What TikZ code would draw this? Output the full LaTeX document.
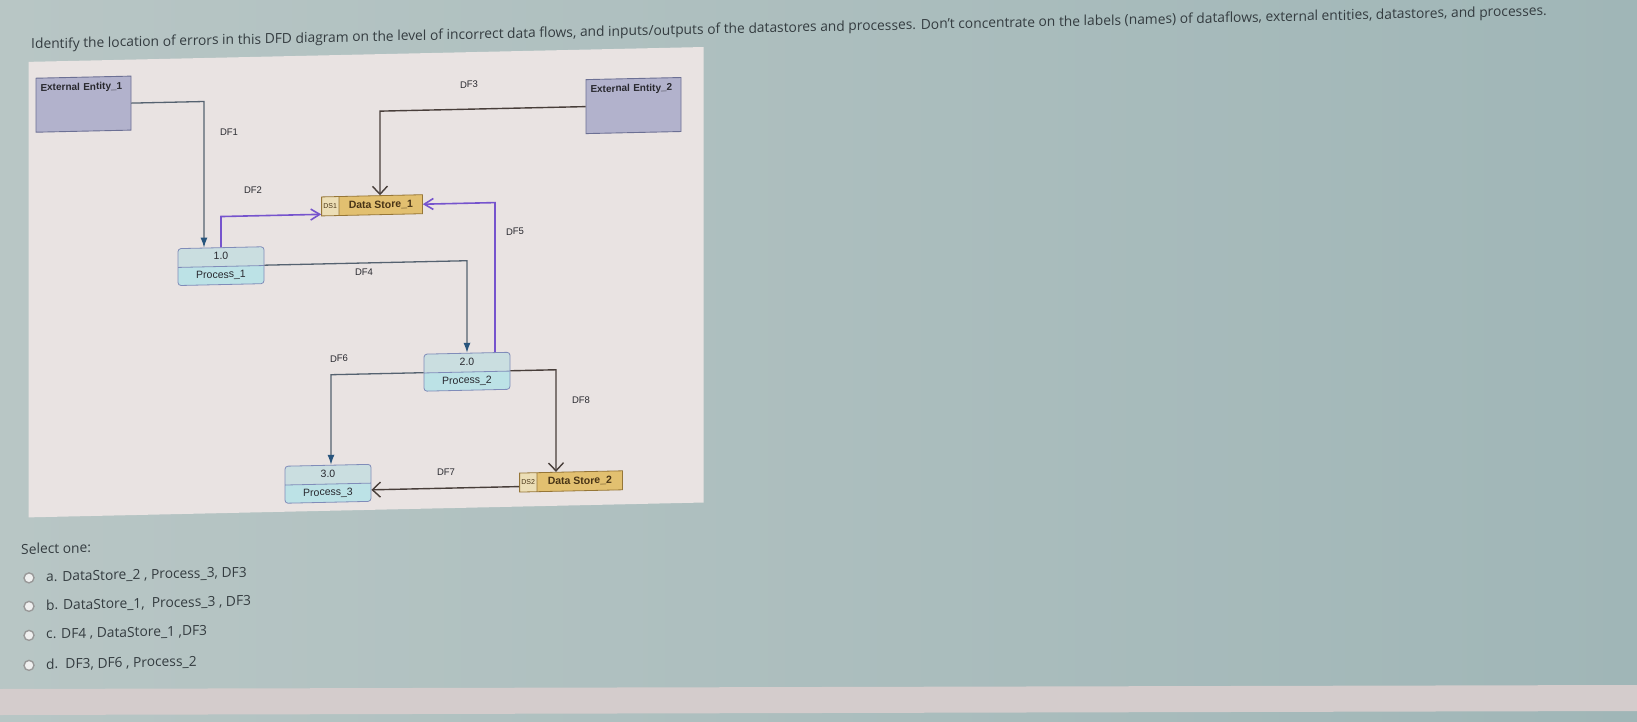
\documentclass[tikz,border=0pt]{standalone}
\usepackage{fontspec}
\setmainfont{Open Sans}
\newfontfamily\dfdfont{Liberation Sans}
\usepackage{tikz}
\usetikzlibrary{arrows.meta,shapes.multipart}

\definecolor{screenleft}{RGB}{184,198,197}
\definecolor{screenright}{RGB}{160,182,183}
\definecolor{bandcol}{RGB}{212,204,204}
\definecolor{panelcol}{RGB}{233,227,226}
\definecolor{titletext}{RGB}{52,60,64}
\definecolor{eefill}{RGB}{178,178,204}
\definecolor{eeline}{RGB}{108,112,148}
\definecolor{procfilltop}{RGB}{202,222,224}
\definecolor{procfillbot}{RGB}{188,226,230}
\definecolor{procline}{RGB}{128,140,185}
\definecolor{dsfillleft}{RGB}{236,222,182}
\definecolor{dsfillright}{RGB}{226,192,112}
\definecolor{dsline}{RGB}{150,118,55}
\definecolor{dstext}{RGB}{72,52,22}
\definecolor{flowgray}{RGB}{85,98,112}
\definecolor{arrowblue}{RGB}{40,85,125}
\definecolor{flowpurple}{RGB}{118,84,205}
\definecolor{flowdark}{RGB}{72,62,58}
\definecolor{labeltext}{RGB}{40,40,46}

\tikzset{
  entity/.style={draw=eeline, fill=eefill, line width=0.9pt, align=left,
    text width=86pt, inner xsep=4.5pt, inner ysep=3pt, text height=10pt, text depth=38pt,
    text=labeltext, font=\dfdfont\bfseries\fontsize{10}{12}\selectfont},
  process/.style={rectangle split, rectangle split parts=2, draw=procline,
    rounded corners=3pt, rectangle split part fill={procfilltop,procfillbot},
    minimum width=86pt, text height=7.5pt, text depth=2.5pt, inner ysep=4pt,
    line width=0.8pt, text=labeltext, font=\dfdfont\fontsize{10.5}{12}\selectfont},
  store/.style={rectangle split, rectangle split horizontal, rectangle split parts=2,
    draw=dsline, rectangle split part fill={dsfillleft,dsfillright}, minimum height=19pt,
    inner xsep=0pt, inner ysep=0pt, line width=0.8pt, text=dstext,
    font=\dfdfont\bfseries\fontsize{10.5}{12}\selectfont},
  flowlabel/.style={text=labeltext, inner sep=0pt, font=\dfdfont\fontsize{9.5}{11}\selectfont},
  solidflow/.style={draw=flowgray, line width=1.3pt, -{Latex[length=10pt,width=7pt,color=arrowblue]}},
  storeflow/.style={draw=flowpurple, line width=1.6pt, -{Straight Barb[length=9pt,width=11pt]}},
  darkflow/.style={draw=flowdark, line width=1.4pt, -{Straight Barb[length=8pt,width=15pt]}},
  radio/.style={circle, draw=gray!80, fill=white!88!gray, line width=1.4pt, minimum size=10pt, inner sep=0pt},
  answer/.style={anchor=west, inner sep=0pt, text=titletext, font=\fontsize{13.8}{16}\selectfont}
}

\begin{document}
\begin{tikzpicture}[x=1pt, y=-1pt]
    \useasboundingbox (0,0) rectangle (1637,722);
    % screen behind the page
    \shade[left color=screenleft, right color=screenright] (0,0) rectangle (1637,722);
    \fill[bandcol] (0,689) -- (1637,685) -- (1637,711) -- (0,715) -- cycle;

    \begin{scope}[transform canvas={yslant=0.022}]
    % question
    \node[answer] (question) at (31,46)
        {Identify the location of errors in this DFD diagram on the level of incorrect data flows, and inputs/outputs of the datastores and processes. Don't concentrate on the labels (names) of dataflows, external entities, datastores, and processes.};

    % diagram panel
    \fill[panelcol] (28.5,62.5) rectangle (703.5,518);

    % external entities
    \node[entity] (ee1) at (83.5,106) {External Entity\_1};
    \node[entity] (ee2) at (633.5,119.5) {External Entity\_2};

    % processes
    \node[process] (p1) at (221,271) {1.0\nodepart{two}Process\_1};
    \node[process] (p2) at (467,382) {2.0\nodepart{two}Process\_2};
    \node[process] (p3) at (328,491) {3.0\nodepart{two}Process\_3};

    % data stores
    \node[store] (ds1) at (372,213.5) {\makebox[17pt]{\mdseries\fontsize{7}{8}\selectfont DS1}\nodepart{two}\makebox[83pt]{Data Store\_1}};
    \node[store] (ds2) at (571,494) {\makebox[17pt]{\mdseries\fontsize{7}{8}\selectfont DS2}\nodepart{two}\makebox[85pt]{Data Store\_2}};

    % data flows
    \draw[solidflow] (ee1.east) -| ([xshift=-17pt]p1.north); % DF1
    \draw[storeflow] (p1.north) |- ([yshift=2pt]ds1.south west); % DF2
    \draw[darkflow] (ee2.west) -| ([xshift=8pt]ds1.north); % DF3
    \draw[solidflow] (p1.east) -| (p2.north); % DF4
    \draw[storeflow] ([xshift=28pt]p2.north) |- (ds1.east); % DF5
    \draw[solidflow] (p2.west) -| ([xshift=3pt]p3.north); % DF6
    \draw[darkflow] ([yshift=-4pt]ds2.west) -- ([yshift=-4pt]ds2.west -| p3.east); % DF7
    \draw[darkflow] (p2.east) -| ([xshift=-15pt]ds2.north); % DF8

    % flow labels
    \node[flowlabel] (lbl1) at (229,137) {DF1};
    \node[flowlabel] (lbl2) at (253,196) {DF2};
    \node[flowlabel] (lbl3) at (469,95) {DF3};
    \node[flowlabel] (lbl4) at (364,280) {DF4};
    \node[flowlabel] (lbl5) at (515,243) {DF5};
    \node[flowlabel] (lbl6) at (339,366) {DF6};
    \node[flowlabel] (lbl7) at (446,482) {DF7};
    \node[flowlabel] (lbl8) at (581,413) {DF8};

    % answers
    \node[answer] (select) at (21,549.5) {Select one:};
    \node[radio] (ra) at (29,578.5) {};
    \node[radio] (rb) at (29,607) {};
    \node[radio] (rc) at (29,636) {};
    \node[radio] (rd) at (29,666) {};
    \node[answer] (opta) at (46,578.5) {a. DataStore\_2 , Process\_3, DF3};
    \node[answer] (optb) at (46,607) {b. DataStore\_1,\ \ Process\_3 , DF3};
    \node[answer] (optc) at (46,636) {c. DF4 , DataStore\_1 ,DF3};
    \node[answer] (optd) at (46,666) {d.\ \ DF3, DF6 , Process\_2};
    \end{scope}
\end{tikzpicture}
\end{document}
